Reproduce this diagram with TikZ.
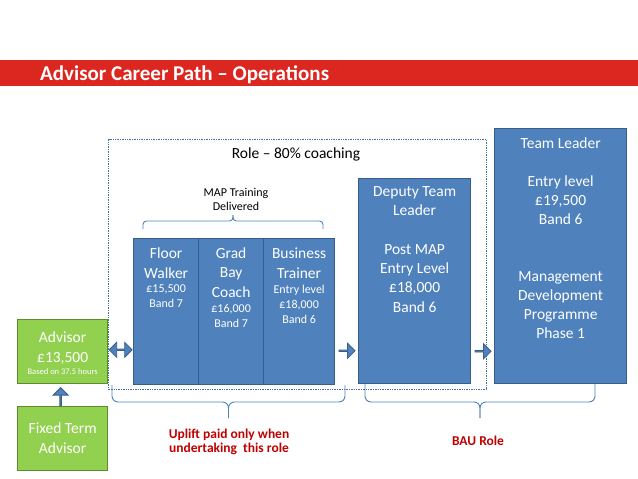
\documentclass[tikz,border=0pt]{standalone}
\usepackage{fontspec}
\setmainfont{Carlito}
\usetikzlibrary{shapes.arrows,calc}
\definecolor{bfill}{HTML}{4F81BD}
\definecolor{bline}{HTML}{385D8A}
\definecolor{gfill}{HTML}{92D050}
\definecolor{gline}{HTML}{5E8A2E}
\definecolor{redbar}{HTML}{DC2620}
\definecolor{darkred}{HTML}{C00000}
\definecolor{dotc}{HTML}{4A6E9E}
\newcommand\bxL{\fontsize{15.5}{19.3}\selectfont}
\newcommand\bxS{\fontsize{12}{15}\selectfont}
\newcommand\bxT{\fontsize{8.5}{12}\selectfont}
\newcommand\obrace[6]{%
  \draw[bracestyle, rounded corners=#6] (#1,#3) -- (#1,#4) -- ({(#1+#2)/2},#4) -- ({(#1+#2)/2},#5);
  \draw[bracestyle, rounded corners=#6] ({(#1+#2)/2},#5) -- ({(#1+#2)/2},#4) -- (#2,#4) -- (#2,#3);}
\begin{document}
\begin{tikzpicture}[x=1pt,y=-1pt,
  bluebox/.style={draw=bline, fill=bfill, line width=1.3pt, inner sep=0pt, anchor=north west},
  greenbox/.style={draw=gline, fill=gfill, line width=1.3pt, inner sep=0pt, anchor=north west},
  boxtext/.style={text=white, inner sep=0pt, anchor=base, align=center, font=\bxL},
  smalltext/.style={boxtext, font=\bxS},
  dotbox/.style={draw=dotc, dash pattern=on 1.4pt off 1pt, line width=1.4pt, inner sep=0pt, anchor=north west},
  barrow/.style={single arrow, draw=bline, fill=bfill, line width=0.8pt, inner sep=0pt,
    minimum width=15pt, minimum height=16pt, single arrow head extend=3.5pt},
  darrow/.style={double arrow, draw=bline, fill=bfill, line width=0.8pt, inner sep=0pt,
    minimum width=15pt, minimum height=23pt, double arrow head extend=3.5pt},
  bracestyle/.style={draw=bfill, line width=0.9pt},
  note/.style={text=darkred, font=\bfseries\fontsize{13.5}{14}\selectfont, align=center, inner sep=0pt, anchor=base}
]
\useasboundingbox (0,0) rectangle (638,479);
\fill[redbar] (0,60) rectangle (638,86);
\node[anchor=base west, text=white, font=\bfseries\fontsize{21}{22}\selectfont, inner sep=0pt] (title) at (40,80) {Advisor Career Path – Operations};

% dotted region
\node[dotbox, minimum width=378pt, minimum height=250pt] (rolebox) at (108,139) {};
\node[anchor=base, inner sep=0pt, font=\bxL] (roletxt) at (296,158) {Role – 80\% coaching};
\node[anchor=base, inner sep=0pt, font=\fontsize{12}{14}\selectfont, align=center] (maptxt) at (236,210) {MAP Training\\Delivered};

% boxes
\node[bluebox, minimum width=65pt, minimum height=146pt] (fw) at (133,238) {};
\node[bluebox, minimum width=65pt, minimum height=146pt] (gbc) at (198,238) {};
\node[bluebox, minimum width=71pt, minimum height=146pt] (bt) at (263,238) {};
\node[bluebox, minimum width=112pt, minimum height=205pt] (dtl) at (358,178) {};
\node[bluebox, minimum width=132pt, minimum height=255pt] (tl) at (494,128) {};
\node[greenbox, minimum width=90pt, minimum height=64pt] (adv) at (17,319) {};
\node[greenbox, minimum width=90pt, minimum height=64pt] (fta) at (17,406) {};

% box texts (anchored at the baseline of the last line)
\node[boxtext] (fwt) at ($(fw.north)+(0,40)$) {Floor\\Walker};
\node[smalltext] (fws) at ($(fw.north)+(0,69.5)$) {£15,500\\Band 7};
\node[boxtext] (gbct) at ($(gbc.north)+(0,59)$) {Grad\\Bay\\Coach};
\node[smalltext] (gbcs) at ($(gbc.north)+(0,89)$) {£16,000\\Band 7};
\node[boxtext] (btt) at ($(bt.north)+(0,40)$) {Business\\Trainer};
\node[smalltext] (bts) at ($(bt.north)+(0,85)$) {Entry level\\£18,000\\Band 6};
\node[boxtext] (dtlt) at ($(dtl.north)+(0,134)$) {Deputy Team\\Leader\\~\\Post MAP\\Entry Level\\£18,000\\Band 6};
\node[boxtext, font=\fontsize{15.5}{19}\selectfont] (tlt) at ($(tl.north)+(0,210)$) {Team Leader\\~\\Entry level\\£19,500\\Band 6\\~\\~\\Management\\Development\\Programme\\Phase 1};
\node[boxtext] (advt) at ($(adv.north)+(0,43)$) {Advisor\\£13,500};
\node[boxtext, font=\bxT] (advs) at ($(adv.north)+(0,55)$) {Based on 37.5 hours};
\node[boxtext] (ftat) at ($(fta.north)+(0,47)$) {Fixed Term\\Advisor};

% block arrows
\node[darrow] (a1) at ($(adv.south east)!0.5!(fw.south west)+(0,-35)$) {};
\node[barrow] (a2) at ($(bt.south east)!0.5!(dtl.south west)+(0,-34)$) {};
\node[barrow] (a3) at ($(dtl.south east)!0.5!(tl.south west)+(0,-33)$) {};
\node[barrow, shape border rotate=90, minimum height=18pt] (a4) at ($(fta.north)+(-2,-9)$) {};

% braces
\obrace{143}{323}{229}{221}{215}{3.5pt}
\obrace{112}{345}{385}{402}{418}{6pt}
\obrace{365}{595}{384}{402}{418}{6pt}

% notes
\node[note] (uplift) at (229,452) {Uplift paid only when\\undertaking~ this role};
\node[note] (bau) at (478,445) {BAU Role};
\end{tikzpicture}
\end{document}
